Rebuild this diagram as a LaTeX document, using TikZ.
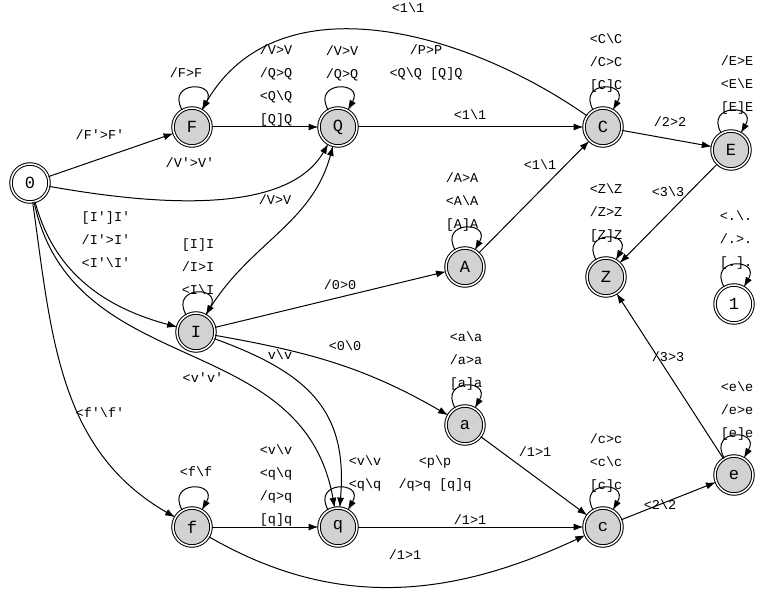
\documentclass[tikz,border=0pt]{standalone}
\usepackage{fontspec}
\setmonofont{Liberation Mono}
\usetikzlibrary{arrows.meta}
\begin{document}
\begin{tikzpicture}[x=1pt,y=-1pt,
 st/.style={circle,draw,line width=1pt,fill=gray!35,double,double distance=1.5pt,minimum size=38pt,inner sep=0pt,font=\ttfamily\fontsize{17}{17}\selectfont},
 wst/.style={st,fill=white},
 lb/.style={font=\ttfamily\fontsize{13.5}{23}\selectfont,align=center,inner sep=1pt},
 ar/.style={-{Latex[length=10pt,width=7pt]},line width=1pt},
 lp/.style={ar,out=120,in=60,looseness=4.5}]
\useasboundingbox (0,0) rectangle (767,593);
\node[wst] (n0) at (30,183) {0};
\node[st] (F) at (192,127) {F};
\node[st] (Q) at (338,127) {Q};
\node[st] (C) at (603,127) {C};
\node[st] (E) at (731,150) {E};
\node[st] (A) at (465,267) {A};
\node[st] (Z) at (606,277) {Z};
\node[wst] (n1) at (734,304) {1};
\node[st] (I) at (196,332) {I};
\node[st] (a) at (465,425) {a};
\node[st] (e) at (734,475) {e};
\node[st] (f) at (192,527) {f};
\node[st] (q) at (338,527) {q};
\node[st] (c) at (603,527) {c};
% edges
\draw[ar] (n0) -- (F);
\draw[ar] (n0) to[out=-10,in=-120,looseness=0.8] (Q);
\draw[ar] (n0) to[out=-75,in=165] (I);
\draw[ar] (n0) to[out=-82,in=150] (f);
\draw[ar] (n0) to[out=-78,in=100,looseness=1.1] (q);
\draw[ar] (F) -- (Q);
\draw[ar] (Q) -- (C);
\draw[ar] (C) to[out=145,in=60] (F);
\draw[ar] (C) -- (E);
\draw[ar] (E) -- (Z);
\draw[ar] (A) -- (C);
\draw[ar] (I) to[out=60,in=-105] (Q);
\draw[ar] (I) -- (A);
\draw[ar] (I) to[out=-10,in=150] (a);
\draw[ar] (I) to[out=-20,in=85,looseness=1.2] (q);
\draw[ar] (a) -- (c);
\draw[ar] (e) -- (Z);
\draw[ar] (c) -- (e);
\draw[ar] (f) -- (q);
\draw[ar] (q) -- (c);
\draw[ar] (f) to[out=-30,in=-155] (c);
% loops
\foreach \n in {F,Q,C,E,A,Z,n1,I,a,e,f,q,c} \draw[lp] (\n) to (\n);
% labels
\node[lb] (l1) at (100,135) {/F'>F'};
\node[lb] (l2) at (190,163) {/V'>V'};
\node[lb] (l3) at (106,240) {[I']I'\\/I'>I'\\<I'\textbackslash I'};
\node[lb] (l4) at (100,413) {<f'\textbackslash f'};
\node[lb] (l5) at (203,378) {<v'v'};
\node[lb] (l6) at (186,73) {/F>F};
\node[lb] (l7) at (276,86) {/V>V\\/Q>Q\\<Q\textbackslash Q\\{}[Q]Q};
\node[lb] (l8) at (342,63) {/V>V\\/Q>Q};
\node[lb] (l9) at (426,63) {/P>P\\<Q\textbackslash Q [Q]Q};
\node[lb] (l10) at (470,115) {<1\textbackslash 1};
\node[lb] (l11) at (408,8) {<1\textbackslash 1};
\node[lb] (l12) at (606,63) {<C\textbackslash C\\/C>C\\{}[C]C};
\node[lb] (l13) at (670,122) {/2>2};
\node[lb] (l14) at (737,85) {/E>E\\<E\textbackslash E\\{}[E]E};
\node[lb] (l15) at (668,192) {<3\textbackslash 3};
\node[lb] (l16) at (540,165) {<1\textbackslash 1};
\node[lb] (l17) at (462,202) {/A>A\\<A\textbackslash A\\{}[A]A};
\node[lb] (l18) at (606,213) {<Z\textbackslash Z\\/Z>Z\\{}[Z]Z};
\node[lb] (l19) at (736,240) {<.\textbackslash .\\/.>.\\{}[.].};
\node[lb] (l20) at (275,200) {/V>V};
\node[lb] (l21) at (340,285) {/0>0};
\node[lb] (l22) at (345,346) {<0\textbackslash 0};
\node[lb] (l23) at (280,355) {v\textbackslash v};
\node[lb] (l24) at (198,267) {[I]I\\/I>I\\<I\textbackslash I};
\node[lb] (l25) at (466,361) {<a\textbackslash a\\/a>a\\{}[a]a};
\node[lb] (l26) at (535,452) {/1>1};
\node[lb] (l27) at (668,357) {/3>3};
\node[lb] (l28) at (737,411) {<e\textbackslash e\\/e>e\\{}[e]e};
\node[lb] (l29) at (660,505) {<2\textbackslash 2};
\node[lb] (l30) at (606,463) {/c>c\\<c\textbackslash c\\{}[c]c};
\node[lb] (l31) at (196,472) {<f\textbackslash f};
\node[lb] (l32) at (276,486) {<v\textbackslash v\\<q\textbackslash q\\/q>q\\{}[q]q};
\node[lb] (l33) at (365,474) {<v\textbackslash v\\<q\textbackslash q};
\node[lb] (l34) at (435,474) {<p\textbackslash p\\/q>q [q]q};
\node[lb] (l35) at (470,520) {/1>1};
\node[lb] (l36) at (405,555) {/1>1};
\end{tikzpicture}
\end{document}
